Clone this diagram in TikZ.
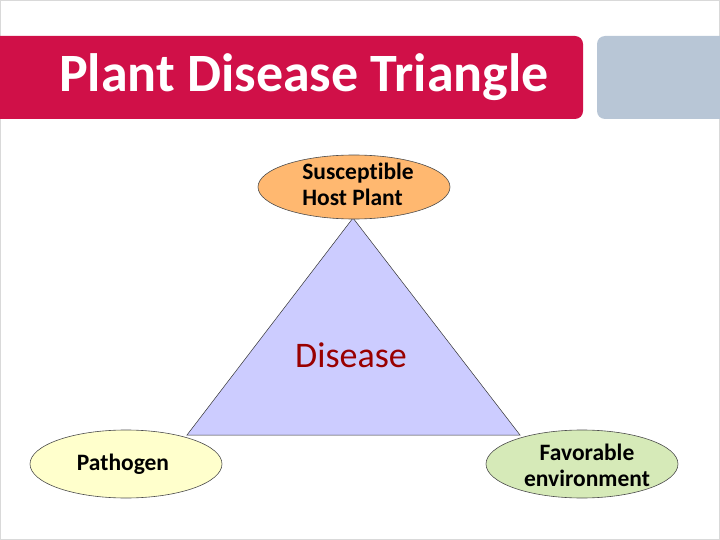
\documentclass[tikz,border=0pt]{standalone}
\usepackage{fontspec}
\setmainfont[Ligatures={NoCommon}]{Carlito}
\usetikzlibrary{shapes.geometric}
\definecolor{banred}{RGB}{208,16,72}
\definecolor{bangray}{RGB}{184,198,214}
\definecolor{trifill}{RGB}{204,204,255}
\definecolor{hostfill}{RGB}{255,184,112}
\definecolor{pathfill}{RGB}{255,255,204}
\definecolor{envfill}{RGB}{214,234,184}
\definecolor{diseasered}{RGB}{153,0,0}
\tikzset{
  ell/.style={ellipse, draw=black!70, line width=0.6pt, minimum width=192pt, minimum height=68pt, inner sep=0pt},
  lbl/.style={font=\bfseries\fontsize{23.5}{26}\selectfont, align=left}
}
\begin{document}
\begin{tikzpicture}[x=1pt,y=-1pt]
\useasboundingbox (0,0) rectangle (720,540);
\draw[black!15, line width=1pt] (0.5,0.5) rectangle (719.5,539.5);
\fill[banred, rounded corners=8pt] (-10,36) rectangle (583,119);
\fill[bangray, rounded corners=8pt] (597,36) rectangle (730,119);
\node[text=white, font=\bfseries\fontsize{54}{60}\selectfont] (title) at (304,77) {Plant Disease Triangle};
\coordinate (A) at (353,218);
\coordinate (B) at (187,435);
\coordinate (C) at (520,435);
\draw[fill=trifill, draw=black!80, line width=0.5pt] (A) -- (B) -- (C) -- cycle;
\node[text=diseasered, font=\fontsize{36}{40}\selectfont] (dis) at (351,355) {Disease};
\node[ell, fill=hostfill, minimum width=192pt, minimum height=64pt] (host) at (354,187) {};
\node[lbl] (hostt) at (358,184) {Susceptible\\Host Plant};
\node[ell, fill=pathfill] (path) at (126,464) {};
\node[lbl] (patht) at (123,464) {Pathogen};
\node[ell, fill=envfill] (env) at (582,464) {};
\node[lbl, align=center] (envt) at (587,465) {Favorable\\environment};
\end{tikzpicture}
\end{document}
